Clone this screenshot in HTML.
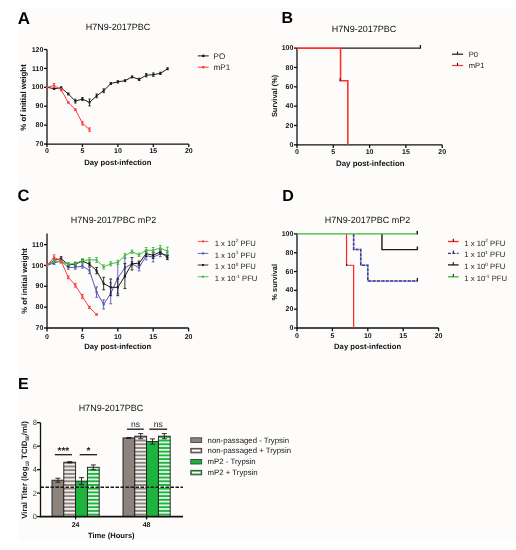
<!DOCTYPE html>
<html><head><meta charset="utf-8"><style>
html,body{margin:0;padding:0;background:#fff;}
svg{display:block;font-family:"Liberation Sans", sans-serif;filter:blur(0.3px);}
</style></head><body>
<svg width="516" height="550" viewBox="0 0 516 550" text-rendering="geometricPrecision">
<rect width="516" height="550" fill="#fff"/>
<rect x="18" y="8" width="498" height="533" fill="#fdfcfb"/>
<line x1="47.00" y1="49.50" x2="47.00" y2="144.70" stroke="#111" stroke-width="1.3" />
<line x1="46.35" y1="144.05" x2="188.80" y2="144.05" stroke="#111" stroke-width="1.3" />
<line x1="44.00" y1="144.05" x2="47.00" y2="144.05" stroke="#111" stroke-width="1.3" />
<text x="43.40" y="146.15" font-size="7" font-weight="bold" text-anchor="end" fill="#111" >70</text>
<line x1="44.00" y1="125.14" x2="47.00" y2="125.14" stroke="#111" stroke-width="1.3" />
<text x="43.40" y="127.24" font-size="7" font-weight="bold" text-anchor="end" fill="#111" >80</text>
<line x1="44.00" y1="106.23" x2="47.00" y2="106.23" stroke="#111" stroke-width="1.3" />
<text x="43.40" y="108.33" font-size="7" font-weight="bold" text-anchor="end" fill="#111" >90</text>
<line x1="44.00" y1="87.32" x2="47.00" y2="87.32" stroke="#111" stroke-width="1.3" />
<text x="43.40" y="89.42" font-size="7" font-weight="bold" text-anchor="end" fill="#111" >100</text>
<line x1="44.00" y1="68.41" x2="47.00" y2="68.41" stroke="#111" stroke-width="1.3" />
<text x="43.40" y="70.51" font-size="7" font-weight="bold" text-anchor="end" fill="#111" >110</text>
<line x1="44.00" y1="49.50" x2="47.00" y2="49.50" stroke="#111" stroke-width="1.3" />
<text x="43.40" y="51.60" font-size="7" font-weight="bold" text-anchor="end" fill="#111" >120</text>
<line x1="47.00" y1="144.05" x2="47.00" y2="147.05" stroke="#111" stroke-width="1.3" />
<text x="47.00" y="153.35" font-size="7" font-weight="bold" text-anchor="middle" fill="#111" >0</text>
<line x1="82.45" y1="144.05" x2="82.45" y2="147.05" stroke="#111" stroke-width="1.3" />
<text x="82.45" y="153.35" font-size="7" font-weight="bold" text-anchor="middle" fill="#111" >5</text>
<line x1="117.90" y1="144.05" x2="117.90" y2="147.05" stroke="#111" stroke-width="1.3" />
<text x="117.90" y="153.35" font-size="7" font-weight="bold" text-anchor="middle" fill="#111" >10</text>
<line x1="153.35" y1="144.05" x2="153.35" y2="147.05" stroke="#111" stroke-width="1.3" />
<text x="153.35" y="153.35" font-size="7" font-weight="bold" text-anchor="middle" fill="#111" >15</text>
<line x1="188.80" y1="144.05" x2="188.80" y2="147.05" stroke="#111" stroke-width="1.3" />
<text x="188.80" y="153.35" font-size="7" font-weight="bold" text-anchor="middle" fill="#111" >20</text>
<text x="17.80" y="24.30" font-size="17" font-weight="bold" text-anchor="start" fill="#000" >A</text>
<text x="118.00" y="30.30" font-size="9" font-weight="normal" text-anchor="middle" fill="#111" >H7N9-2017PBC</text>
<text x="117.80" y="165.20" font-size="7.7" font-weight="bold" text-anchor="middle" fill="#111" >Day post-infection</text>
<text x="0.00" y="0.00" font-size="7.9" font-weight="bold" text-anchor="middle" fill="#111" transform="translate(25.9 97.5) rotate(-90)">% of initial weight</text>
<polyline points="47.00,87.32 54.09,88.64 61.18,87.89 68.27,93.94 75.36,101.12 82.45,99.04 89.54,102.45 96.63,95.83 103.72,90.72 110.81,83.54 117.90,81.84 124.99,80.70 132.08,76.92 139.17,79.38 146.26,75.22 153.35,74.65 160.44,73.33 167.53,68.79" fill="none" stroke="#1a1a1a" stroke-width="1.0" stroke-linejoin="miter" />
<rect x="46.00" y="86.32" width="2.0" height="2.0" fill="#1a1a1a"/>
<line x1="54.09" y1="87.89" x2="54.09" y2="89.40" stroke="#1a1a1a" stroke-width="0.9" />
<line x1="52.89" y1="87.89" x2="55.29" y2="87.89" stroke="#1a1a1a" stroke-width="0.9" />
<line x1="52.89" y1="89.40" x2="55.29" y2="89.40" stroke="#1a1a1a" stroke-width="0.9" />
<rect x="53.09" y="87.64" width="2.0" height="2.0" fill="#1a1a1a"/>
<line x1="61.18" y1="86.75" x2="61.18" y2="89.02" stroke="#1a1a1a" stroke-width="0.9" />
<line x1="59.98" y1="86.75" x2="62.38" y2="86.75" stroke="#1a1a1a" stroke-width="0.9" />
<line x1="59.98" y1="89.02" x2="62.38" y2="89.02" stroke="#1a1a1a" stroke-width="0.9" />
<rect x="60.18" y="86.89" width="2.0" height="2.0" fill="#1a1a1a"/>
<line x1="68.27" y1="92.99" x2="68.27" y2="94.88" stroke="#1a1a1a" stroke-width="0.9" />
<line x1="67.07" y1="92.99" x2="69.47" y2="92.99" stroke="#1a1a1a" stroke-width="0.9" />
<line x1="67.07" y1="94.88" x2="69.47" y2="94.88" stroke="#1a1a1a" stroke-width="0.9" />
<rect x="67.27" y="92.94" width="2.0" height="2.0" fill="#1a1a1a"/>
<line x1="75.36" y1="99.23" x2="75.36" y2="103.02" stroke="#1a1a1a" stroke-width="0.9" />
<line x1="74.16" y1="99.23" x2="76.56" y2="99.23" stroke="#1a1a1a" stroke-width="0.9" />
<line x1="74.16" y1="103.02" x2="76.56" y2="103.02" stroke="#1a1a1a" stroke-width="0.9" />
<rect x="74.36" y="100.12" width="2.0" height="2.0" fill="#1a1a1a"/>
<line x1="82.45" y1="97.53" x2="82.45" y2="100.56" stroke="#1a1a1a" stroke-width="0.9" />
<line x1="81.25" y1="97.53" x2="83.65" y2="97.53" stroke="#1a1a1a" stroke-width="0.9" />
<line x1="81.25" y1="100.56" x2="83.65" y2="100.56" stroke="#1a1a1a" stroke-width="0.9" />
<rect x="81.45" y="98.04" width="2.0" height="2.0" fill="#1a1a1a"/>
<line x1="89.54" y1="99.04" x2="89.54" y2="105.85" stroke="#1a1a1a" stroke-width="0.9" />
<line x1="88.34" y1="99.04" x2="90.74" y2="99.04" stroke="#1a1a1a" stroke-width="0.9" />
<line x1="88.34" y1="105.85" x2="90.74" y2="105.85" stroke="#1a1a1a" stroke-width="0.9" />
<rect x="88.54" y="101.45" width="2.0" height="2.0" fill="#1a1a1a"/>
<line x1="96.63" y1="93.94" x2="96.63" y2="97.72" stroke="#1a1a1a" stroke-width="0.9" />
<line x1="95.43" y1="93.94" x2="97.83" y2="93.94" stroke="#1a1a1a" stroke-width="0.9" />
<line x1="95.43" y1="97.72" x2="97.83" y2="97.72" stroke="#1a1a1a" stroke-width="0.9" />
<rect x="95.63" y="94.83" width="2.0" height="2.0" fill="#1a1a1a"/>
<line x1="103.72" y1="88.83" x2="103.72" y2="92.61" stroke="#1a1a1a" stroke-width="0.9" />
<line x1="102.52" y1="88.83" x2="104.92" y2="88.83" stroke="#1a1a1a" stroke-width="0.9" />
<line x1="102.52" y1="92.61" x2="104.92" y2="92.61" stroke="#1a1a1a" stroke-width="0.9" />
<rect x="102.72" y="89.72" width="2.0" height="2.0" fill="#1a1a1a"/>
<line x1="110.81" y1="82.59" x2="110.81" y2="84.48" stroke="#1a1a1a" stroke-width="0.9" />
<line x1="109.61" y1="82.59" x2="112.01" y2="82.59" stroke="#1a1a1a" stroke-width="0.9" />
<line x1="109.61" y1="84.48" x2="112.01" y2="84.48" stroke="#1a1a1a" stroke-width="0.9" />
<rect x="109.81" y="82.54" width="2.0" height="2.0" fill="#1a1a1a"/>
<line x1="117.90" y1="80.70" x2="117.90" y2="82.97" stroke="#1a1a1a" stroke-width="0.9" />
<line x1="116.70" y1="80.70" x2="119.10" y2="80.70" stroke="#1a1a1a" stroke-width="0.9" />
<line x1="116.70" y1="82.97" x2="119.10" y2="82.97" stroke="#1a1a1a" stroke-width="0.9" />
<rect x="116.90" y="80.84" width="2.0" height="2.0" fill="#1a1a1a"/>
<line x1="124.99" y1="79.76" x2="124.99" y2="81.65" stroke="#1a1a1a" stroke-width="0.9" />
<line x1="123.79" y1="79.76" x2="126.19" y2="79.76" stroke="#1a1a1a" stroke-width="0.9" />
<line x1="123.79" y1="81.65" x2="126.19" y2="81.65" stroke="#1a1a1a" stroke-width="0.9" />
<rect x="123.99" y="79.70" width="2.0" height="2.0" fill="#1a1a1a"/>
<line x1="132.08" y1="75.97" x2="132.08" y2="77.87" stroke="#1a1a1a" stroke-width="0.9" />
<line x1="130.88" y1="75.97" x2="133.28" y2="75.97" stroke="#1a1a1a" stroke-width="0.9" />
<line x1="130.88" y1="77.87" x2="133.28" y2="77.87" stroke="#1a1a1a" stroke-width="0.9" />
<rect x="131.08" y="75.92" width="2.0" height="2.0" fill="#1a1a1a"/>
<line x1="139.17" y1="78.24" x2="139.17" y2="80.51" stroke="#1a1a1a" stroke-width="0.9" />
<line x1="137.97" y1="78.24" x2="140.37" y2="78.24" stroke="#1a1a1a" stroke-width="0.9" />
<line x1="137.97" y1="80.51" x2="140.37" y2="80.51" stroke="#1a1a1a" stroke-width="0.9" />
<rect x="138.17" y="78.38" width="2.0" height="2.0" fill="#1a1a1a"/>
<line x1="146.26" y1="73.52" x2="146.26" y2="76.92" stroke="#1a1a1a" stroke-width="0.9" />
<line x1="145.06" y1="73.52" x2="147.46" y2="73.52" stroke="#1a1a1a" stroke-width="0.9" />
<line x1="145.06" y1="76.92" x2="147.46" y2="76.92" stroke="#1a1a1a" stroke-width="0.9" />
<rect x="145.26" y="74.22" width="2.0" height="2.0" fill="#1a1a1a"/>
<line x1="153.35" y1="72.95" x2="153.35" y2="76.35" stroke="#1a1a1a" stroke-width="0.9" />
<line x1="152.15" y1="72.95" x2="154.55" y2="72.95" stroke="#1a1a1a" stroke-width="0.9" />
<line x1="152.15" y1="76.35" x2="154.55" y2="76.35" stroke="#1a1a1a" stroke-width="0.9" />
<rect x="152.35" y="73.65" width="2.0" height="2.0" fill="#1a1a1a"/>
<line x1="160.44" y1="72.19" x2="160.44" y2="74.46" stroke="#1a1a1a" stroke-width="0.9" />
<line x1="159.24" y1="72.19" x2="161.64" y2="72.19" stroke="#1a1a1a" stroke-width="0.9" />
<line x1="159.24" y1="74.46" x2="161.64" y2="74.46" stroke="#1a1a1a" stroke-width="0.9" />
<rect x="159.44" y="72.33" width="2.0" height="2.0" fill="#1a1a1a"/>
<line x1="167.53" y1="67.84" x2="167.53" y2="69.73" stroke="#1a1a1a" stroke-width="0.9" />
<line x1="166.33" y1="67.84" x2="168.73" y2="67.84" stroke="#1a1a1a" stroke-width="0.9" />
<line x1="166.33" y1="69.73" x2="168.73" y2="69.73" stroke="#1a1a1a" stroke-width="0.9" />
<rect x="166.53" y="67.79" width="2.0" height="2.0" fill="#1a1a1a"/>
<polyline points="47.00,87.32 54.09,85.43 61.18,89.78 68.27,102.45 75.36,109.63 82.45,123.25 89.54,129.68" fill="none" stroke="#ff3b3b" stroke-width="1.0" stroke-linejoin="miter" />
<rect x="46.00" y="86.32" width="2.0" height="2.0" fill="#ff3b3b"/>
<line x1="54.09" y1="83.54" x2="54.09" y2="87.32" stroke="#ff3b3b" stroke-width="0.9" />
<line x1="52.89" y1="83.54" x2="55.29" y2="83.54" stroke="#ff3b3b" stroke-width="0.9" />
<line x1="52.89" y1="87.32" x2="55.29" y2="87.32" stroke="#ff3b3b" stroke-width="0.9" />
<rect x="53.09" y="84.43" width="2.0" height="2.0" fill="#ff3b3b"/>
<line x1="61.18" y1="88.64" x2="61.18" y2="90.91" stroke="#ff3b3b" stroke-width="0.9" />
<line x1="59.98" y1="88.64" x2="62.38" y2="88.64" stroke="#ff3b3b" stroke-width="0.9" />
<line x1="59.98" y1="90.91" x2="62.38" y2="90.91" stroke="#ff3b3b" stroke-width="0.9" />
<rect x="60.18" y="88.78" width="2.0" height="2.0" fill="#ff3b3b"/>
<line x1="68.27" y1="101.88" x2="68.27" y2="103.02" stroke="#ff3b3b" stroke-width="0.9" />
<line x1="67.07" y1="101.88" x2="69.47" y2="101.88" stroke="#ff3b3b" stroke-width="0.9" />
<line x1="67.07" y1="103.02" x2="69.47" y2="103.02" stroke="#ff3b3b" stroke-width="0.9" />
<rect x="67.27" y="101.45" width="2.0" height="2.0" fill="#ff3b3b"/>
<line x1="75.36" y1="108.69" x2="75.36" y2="110.58" stroke="#ff3b3b" stroke-width="0.9" />
<line x1="74.16" y1="108.69" x2="76.56" y2="108.69" stroke="#ff3b3b" stroke-width="0.9" />
<line x1="74.16" y1="110.58" x2="76.56" y2="110.58" stroke="#ff3b3b" stroke-width="0.9" />
<rect x="74.36" y="108.63" width="2.0" height="2.0" fill="#ff3b3b"/>
<line x1="82.45" y1="121.36" x2="82.45" y2="125.14" stroke="#ff3b3b" stroke-width="0.9" />
<line x1="81.25" y1="121.36" x2="83.65" y2="121.36" stroke="#ff3b3b" stroke-width="0.9" />
<line x1="81.25" y1="125.14" x2="83.65" y2="125.14" stroke="#ff3b3b" stroke-width="0.9" />
<rect x="81.45" y="122.25" width="2.0" height="2.0" fill="#ff3b3b"/>
<line x1="89.54" y1="127.79" x2="89.54" y2="131.57" stroke="#ff3b3b" stroke-width="0.9" />
<line x1="88.34" y1="127.79" x2="90.74" y2="127.79" stroke="#ff3b3b" stroke-width="0.9" />
<line x1="88.34" y1="131.57" x2="90.74" y2="131.57" stroke="#ff3b3b" stroke-width="0.9" />
<rect x="88.54" y="128.68" width="2.0" height="2.0" fill="#ff3b3b"/>
<line x1="197.80" y1="55.90" x2="208.70" y2="55.90" stroke="#1a1a1a" stroke-width="1.0" />
<rect x="202.1" y="54.7" width="2.4" height="2.4" fill="#1a1a1a"/>
<text x="213.60" y="58.90" font-size="8.1" font-weight="normal" text-anchor="start" fill="#222" >PO</text>
<line x1="197.80" y1="67.20" x2="208.70" y2="67.20" stroke="#ff3b3b" stroke-width="1.0" />
<rect x="202.1" y="66.0" width="2.4" height="2.4" fill="#ff3b3b"/>
<text x="213.60" y="70.20" font-size="8.1" font-weight="normal" text-anchor="start" fill="#222" >mP1</text>
<line x1="297.00" y1="48.10" x2="297.00" y2="145.45" stroke="#111" stroke-width="1.3" />
<line x1="296.35" y1="144.80" x2="442.20" y2="144.80" stroke="#111" stroke-width="1.3" />
<line x1="294.00" y1="144.80" x2="297.00" y2="144.80" stroke="#111" stroke-width="1.3" />
<text x="293.40" y="146.90" font-size="7" font-weight="bold" text-anchor="end" fill="#111" >0</text>
<line x1="294.00" y1="125.46" x2="297.00" y2="125.46" stroke="#111" stroke-width="1.3" />
<text x="293.40" y="127.56" font-size="7" font-weight="bold" text-anchor="end" fill="#111" >20</text>
<line x1="294.00" y1="106.12" x2="297.00" y2="106.12" stroke="#111" stroke-width="1.3" />
<text x="293.40" y="108.22" font-size="7" font-weight="bold" text-anchor="end" fill="#111" >40</text>
<line x1="294.00" y1="86.78" x2="297.00" y2="86.78" stroke="#111" stroke-width="1.3" />
<text x="293.40" y="88.88" font-size="7" font-weight="bold" text-anchor="end" fill="#111" >60</text>
<line x1="294.00" y1="67.44" x2="297.00" y2="67.44" stroke="#111" stroke-width="1.3" />
<text x="293.40" y="69.54" font-size="7" font-weight="bold" text-anchor="end" fill="#111" >80</text>
<line x1="294.00" y1="48.10" x2="297.00" y2="48.10" stroke="#111" stroke-width="1.3" />
<text x="293.40" y="50.20" font-size="7" font-weight="bold" text-anchor="end" fill="#111" >100</text>
<line x1="297.00" y1="144.80" x2="297.00" y2="148.10" stroke="#111" stroke-width="1.3" />
<text x="297.00" y="154.40" font-size="7" font-weight="bold" text-anchor="middle" fill="#111" >0</text>
<line x1="333.30" y1="144.80" x2="333.30" y2="148.10" stroke="#111" stroke-width="1.3" />
<text x="333.30" y="154.40" font-size="7" font-weight="bold" text-anchor="middle" fill="#111" >5</text>
<line x1="369.60" y1="144.80" x2="369.60" y2="148.10" stroke="#111" stroke-width="1.3" />
<text x="369.60" y="154.40" font-size="7" font-weight="bold" text-anchor="middle" fill="#111" >10</text>
<line x1="405.90" y1="144.80" x2="405.90" y2="148.10" stroke="#111" stroke-width="1.3" />
<text x="405.90" y="154.40" font-size="7" font-weight="bold" text-anchor="middle" fill="#111" >15</text>
<line x1="442.20" y1="144.80" x2="442.20" y2="148.10" stroke="#111" stroke-width="1.3" />
<text x="442.20" y="154.40" font-size="7" font-weight="bold" text-anchor="middle" fill="#111" >20</text>
<text x="281.40" y="23.40" font-size="16" font-weight="bold" text-anchor="start" fill="#000" >B</text>
<text x="364.00" y="31.80" font-size="9" font-weight="normal" text-anchor="middle" fill="#111" >H7N9-2017PBC</text>
<text x="370.30" y="166.10" font-size="7.85" font-weight="bold" text-anchor="middle" fill="#111" >Day post-infection</text>
<text x="0.00" y="0.00" font-size="7.4" font-weight="bold" text-anchor="middle" fill="#111" transform="translate(277.3 95.9) rotate(-90)">Survival (%)</text>
<polyline points="340.56,48.10 420.42,48.10 420.42,45.10" fill="none" stroke="#1a1a1a" stroke-width="1.3" stroke-linejoin="miter" />
<polyline points="297.00,48.10 340.56,48.10 340.56,80.78 347.82,80.78 347.82,144.80" fill="none" stroke="#ff3030" stroke-width="1.6" stroke-linejoin="miter" />
<line x1="340.06" y1="78.28" x2="340.06" y2="81.28" stroke="#1a1a1a" stroke-width="1.0" />
<line x1="452.00" y1="54.20" x2="463.00" y2="54.20" stroke="#1a1a1a" stroke-width="1.2" />
<line x1="457.50" y1="54.20" x2="457.50" y2="51.50" stroke="#1a1a1a" stroke-width="1.1" />
<text x="468.80" y="57.10" font-size="7.6" font-weight="normal" text-anchor="start" fill="#222" >P0</text>
<line x1="452.00" y1="65.50" x2="463.00" y2="65.50" stroke="#ff3030" stroke-width="1.2" />
<line x1="457.50" y1="65.50" x2="457.50" y2="62.80" stroke="#1a1a1a" stroke-width="1.1" />
<text x="468.80" y="68.40" font-size="7.6" font-weight="normal" text-anchor="start" fill="#222" >mP1</text>
<line x1="47.00" y1="233.50" x2="47.00" y2="328.65" stroke="#111" stroke-width="1.3" />
<line x1="46.35" y1="328.00" x2="188.60" y2="328.00" stroke="#111" stroke-width="1.3" />
<line x1="44.00" y1="328.00" x2="47.00" y2="328.00" stroke="#111" stroke-width="1.3" />
<text x="43.40" y="330.10" font-size="7" font-weight="bold" text-anchor="end" fill="#111" >70</text>
<line x1="44.00" y1="307.15" x2="47.00" y2="307.15" stroke="#111" stroke-width="1.3" />
<text x="43.40" y="309.25" font-size="7" font-weight="bold" text-anchor="end" fill="#111" >80</text>
<line x1="44.00" y1="286.30" x2="47.00" y2="286.30" stroke="#111" stroke-width="1.3" />
<text x="43.40" y="288.40" font-size="7" font-weight="bold" text-anchor="end" fill="#111" >90</text>
<line x1="44.00" y1="265.45" x2="47.00" y2="265.45" stroke="#111" stroke-width="1.3" />
<text x="43.40" y="267.55" font-size="7" font-weight="bold" text-anchor="end" fill="#111" >100</text>
<line x1="44.00" y1="244.60" x2="47.00" y2="244.60" stroke="#111" stroke-width="1.3" />
<text x="43.40" y="246.70" font-size="7" font-weight="bold" text-anchor="end" fill="#111" >110</text>
<line x1="47.00" y1="328.00" x2="47.00" y2="331.50" stroke="#111" stroke-width="1.3" />
<text x="47.00" y="338.60" font-size="7" font-weight="bold" text-anchor="middle" fill="#111" >0</text>
<line x1="82.40" y1="328.00" x2="82.40" y2="331.50" stroke="#111" stroke-width="1.3" />
<text x="82.40" y="338.60" font-size="7" font-weight="bold" text-anchor="middle" fill="#111" >5</text>
<line x1="117.80" y1="328.00" x2="117.80" y2="331.50" stroke="#111" stroke-width="1.3" />
<text x="117.80" y="338.60" font-size="7" font-weight="bold" text-anchor="middle" fill="#111" >10</text>
<line x1="153.20" y1="328.00" x2="153.20" y2="331.50" stroke="#111" stroke-width="1.3" />
<text x="153.20" y="338.60" font-size="7" font-weight="bold" text-anchor="middle" fill="#111" >15</text>
<line x1="188.60" y1="328.00" x2="188.60" y2="331.50" stroke="#111" stroke-width="1.3" />
<text x="188.60" y="338.60" font-size="7" font-weight="bold" text-anchor="middle" fill="#111" >20</text>
<text x="17.60" y="200.90" font-size="16.5" font-weight="bold" text-anchor="start" fill="#000" >C</text>
<text x="113.60" y="222.60" font-size="9" font-weight="normal" text-anchor="middle" fill="#111" >H7N9-2017PBC mP2</text>
<text x="117.70" y="348.80" font-size="7.7" font-weight="bold" text-anchor="middle" fill="#111" >Day post-infection</text>
<text x="0.00" y="0.00" font-size="7.75" font-weight="bold" text-anchor="middle" fill="#111" transform="translate(26.5 281) rotate(-90)">% of initial weight</text>
<polyline points="47.00,265.45 54.08,262.95 61.16,261.07 68.24,267.33 75.32,267.33 82.40,266.08 89.48,270.45 96.56,292.14 103.64,304.44 110.72,293.39 117.80,278.17 124.88,267.74 131.96,263.78 139.04,267.74 146.12,255.65 153.20,257.11 160.28,253.98 167.36,254.82" fill="none" stroke="#5656b4" stroke-width="1.0" stroke-linejoin="miter" />
<rect x="45.95" y="264.40" width="2.1" height="2.1" fill="#5656b4"/>
<line x1="54.08" y1="261.28" x2="54.08" y2="264.62" stroke="#5656b4" stroke-width="0.9" />
<line x1="52.68" y1="261.28" x2="55.48" y2="261.28" stroke="#5656b4" stroke-width="0.9" />
<line x1="52.68" y1="264.62" x2="55.48" y2="264.62" stroke="#5656b4" stroke-width="0.9" />
<rect x="53.03" y="261.90" width="2.1" height="2.1" fill="#5656b4"/>
<line x1="61.16" y1="259.40" x2="61.16" y2="262.74" stroke="#5656b4" stroke-width="0.9" />
<line x1="59.76" y1="259.40" x2="62.56" y2="259.40" stroke="#5656b4" stroke-width="0.9" />
<line x1="59.76" y1="262.74" x2="62.56" y2="262.74" stroke="#5656b4" stroke-width="0.9" />
<rect x="60.11" y="260.02" width="2.1" height="2.1" fill="#5656b4"/>
<line x1="68.24" y1="265.45" x2="68.24" y2="269.20" stroke="#5656b4" stroke-width="0.9" />
<line x1="66.84" y1="265.45" x2="69.64" y2="265.45" stroke="#5656b4" stroke-width="0.9" />
<line x1="66.84" y1="269.20" x2="69.64" y2="269.20" stroke="#5656b4" stroke-width="0.9" />
<rect x="67.19" y="266.28" width="2.1" height="2.1" fill="#5656b4"/>
<line x1="75.32" y1="265.45" x2="75.32" y2="269.20" stroke="#5656b4" stroke-width="0.9" />
<line x1="73.92" y1="265.45" x2="76.72" y2="265.45" stroke="#5656b4" stroke-width="0.9" />
<line x1="73.92" y1="269.20" x2="76.72" y2="269.20" stroke="#5656b4" stroke-width="0.9" />
<rect x="74.27" y="266.28" width="2.1" height="2.1" fill="#5656b4"/>
<line x1="82.40" y1="263.99" x2="82.40" y2="268.16" stroke="#5656b4" stroke-width="0.9" />
<line x1="81.00" y1="263.99" x2="83.80" y2="263.99" stroke="#5656b4" stroke-width="0.9" />
<line x1="81.00" y1="268.16" x2="83.80" y2="268.16" stroke="#5656b4" stroke-width="0.9" />
<rect x="81.35" y="265.03" width="2.1" height="2.1" fill="#5656b4"/>
<line x1="89.48" y1="267.33" x2="89.48" y2="273.58" stroke="#5656b4" stroke-width="0.9" />
<line x1="88.08" y1="267.33" x2="90.88" y2="267.33" stroke="#5656b4" stroke-width="0.9" />
<line x1="88.08" y1="273.58" x2="90.88" y2="273.58" stroke="#5656b4" stroke-width="0.9" />
<rect x="88.43" y="269.40" width="2.1" height="2.1" fill="#5656b4"/>
<line x1="96.56" y1="286.93" x2="96.56" y2="297.35" stroke="#5656b4" stroke-width="0.9" />
<line x1="95.16" y1="286.93" x2="97.96" y2="286.93" stroke="#5656b4" stroke-width="0.9" />
<line x1="95.16" y1="297.35" x2="97.96" y2="297.35" stroke="#5656b4" stroke-width="0.9" />
<rect x="95.51" y="291.09" width="2.1" height="2.1" fill="#5656b4"/>
<line x1="103.64" y1="299.85" x2="103.64" y2="309.03" stroke="#5656b4" stroke-width="0.9" />
<line x1="102.24" y1="299.85" x2="105.04" y2="299.85" stroke="#5656b4" stroke-width="0.9" />
<line x1="102.24" y1="309.03" x2="105.04" y2="309.03" stroke="#5656b4" stroke-width="0.9" />
<rect x="102.59" y="303.39" width="2.1" height="2.1" fill="#5656b4"/>
<line x1="110.72" y1="282.96" x2="110.72" y2="303.81" stroke="#5656b4" stroke-width="0.9" />
<line x1="109.32" y1="282.96" x2="112.12" y2="282.96" stroke="#5656b4" stroke-width="0.9" />
<line x1="109.32" y1="303.81" x2="112.12" y2="303.81" stroke="#5656b4" stroke-width="0.9" />
<rect x="109.67" y="292.34" width="2.1" height="2.1" fill="#5656b4"/>
<line x1="117.80" y1="262.53" x2="117.80" y2="293.81" stroke="#5656b4" stroke-width="0.9" />
<line x1="116.40" y1="262.53" x2="119.20" y2="262.53" stroke="#5656b4" stroke-width="0.9" />
<line x1="116.40" y1="293.81" x2="119.20" y2="293.81" stroke="#5656b4" stroke-width="0.9" />
<rect x="116.75" y="277.12" width="2.1" height="2.1" fill="#5656b4"/>
<line x1="124.88" y1="258.36" x2="124.88" y2="277.13" stroke="#5656b4" stroke-width="0.9" />
<line x1="123.48" y1="258.36" x2="126.28" y2="258.36" stroke="#5656b4" stroke-width="0.9" />
<line x1="123.48" y1="277.13" x2="126.28" y2="277.13" stroke="#5656b4" stroke-width="0.9" />
<rect x="123.83" y="266.69" width="2.1" height="2.1" fill="#5656b4"/>
<line x1="131.96" y1="261.70" x2="131.96" y2="265.87" stroke="#5656b4" stroke-width="0.9" />
<line x1="130.56" y1="261.70" x2="133.36" y2="261.70" stroke="#5656b4" stroke-width="0.9" />
<line x1="130.56" y1="265.87" x2="133.36" y2="265.87" stroke="#5656b4" stroke-width="0.9" />
<rect x="130.91" y="262.73" width="2.1" height="2.1" fill="#5656b4"/>
<line x1="139.04" y1="264.62" x2="139.04" y2="270.87" stroke="#5656b4" stroke-width="0.9" />
<line x1="137.64" y1="264.62" x2="140.44" y2="264.62" stroke="#5656b4" stroke-width="0.9" />
<line x1="137.64" y1="270.87" x2="140.44" y2="270.87" stroke="#5656b4" stroke-width="0.9" />
<rect x="137.99" y="266.69" width="2.1" height="2.1" fill="#5656b4"/>
<line x1="146.12" y1="251.48" x2="146.12" y2="259.82" stroke="#5656b4" stroke-width="0.9" />
<line x1="144.72" y1="251.48" x2="147.52" y2="251.48" stroke="#5656b4" stroke-width="0.9" />
<line x1="144.72" y1="259.82" x2="147.52" y2="259.82" stroke="#5656b4" stroke-width="0.9" />
<rect x="145.07" y="254.60" width="2.1" height="2.1" fill="#5656b4"/>
<line x1="153.20" y1="252.31" x2="153.20" y2="261.91" stroke="#5656b4" stroke-width="0.9" />
<line x1="151.80" y1="252.31" x2="154.60" y2="252.31" stroke="#5656b4" stroke-width="0.9" />
<line x1="151.80" y1="261.91" x2="154.60" y2="261.91" stroke="#5656b4" stroke-width="0.9" />
<rect x="152.15" y="256.06" width="2.1" height="2.1" fill="#5656b4"/>
<line x1="160.28" y1="251.27" x2="160.28" y2="256.69" stroke="#5656b4" stroke-width="0.9" />
<line x1="158.88" y1="251.27" x2="161.68" y2="251.27" stroke="#5656b4" stroke-width="0.9" />
<line x1="158.88" y1="256.69" x2="161.68" y2="256.69" stroke="#5656b4" stroke-width="0.9" />
<rect x="159.23" y="252.93" width="2.1" height="2.1" fill="#5656b4"/>
<line x1="167.36" y1="252.31" x2="167.36" y2="257.32" stroke="#5656b4" stroke-width="0.9" />
<line x1="165.96" y1="252.31" x2="168.76" y2="252.31" stroke="#5656b4" stroke-width="0.9" />
<line x1="165.96" y1="257.32" x2="168.76" y2="257.32" stroke="#5656b4" stroke-width="0.9" />
<rect x="166.31" y="253.77" width="2.1" height="2.1" fill="#5656b4"/>
<polyline points="47.00,265.45 54.08,260.45 61.16,258.57 68.24,264.82 75.32,264.20 82.40,261.07 89.48,264.20 96.56,270.66 103.64,283.59 110.72,287.34 117.80,287.34 124.88,276.08 131.96,263.78 139.04,263.16 146.12,253.57 153.20,255.23 160.28,251.90 167.36,257.53" fill="none" stroke="#1a1a1a" stroke-width="1.0" stroke-linejoin="miter" />
<rect x="45.95" y="264.40" width="2.1" height="2.1" fill="#1a1a1a"/>
<line x1="54.08" y1="258.78" x2="54.08" y2="262.11" stroke="#1a1a1a" stroke-width="0.9" />
<line x1="52.68" y1="258.78" x2="55.48" y2="258.78" stroke="#1a1a1a" stroke-width="0.9" />
<line x1="52.68" y1="262.11" x2="55.48" y2="262.11" stroke="#1a1a1a" stroke-width="0.9" />
<rect x="53.03" y="259.40" width="2.1" height="2.1" fill="#1a1a1a"/>
<line x1="61.16" y1="256.69" x2="61.16" y2="260.45" stroke="#1a1a1a" stroke-width="0.9" />
<line x1="59.76" y1="256.69" x2="62.56" y2="256.69" stroke="#1a1a1a" stroke-width="0.9" />
<line x1="59.76" y1="260.45" x2="62.56" y2="260.45" stroke="#1a1a1a" stroke-width="0.9" />
<rect x="60.11" y="257.52" width="2.1" height="2.1" fill="#1a1a1a"/>
<line x1="68.24" y1="263.16" x2="68.24" y2="266.49" stroke="#1a1a1a" stroke-width="0.9" />
<line x1="66.84" y1="263.16" x2="69.64" y2="263.16" stroke="#1a1a1a" stroke-width="0.9" />
<line x1="66.84" y1="266.49" x2="69.64" y2="266.49" stroke="#1a1a1a" stroke-width="0.9" />
<rect x="67.19" y="263.77" width="2.1" height="2.1" fill="#1a1a1a"/>
<line x1="75.32" y1="262.53" x2="75.32" y2="265.87" stroke="#1a1a1a" stroke-width="0.9" />
<line x1="73.92" y1="262.53" x2="76.72" y2="262.53" stroke="#1a1a1a" stroke-width="0.9" />
<line x1="73.92" y1="265.87" x2="76.72" y2="265.87" stroke="#1a1a1a" stroke-width="0.9" />
<rect x="74.27" y="263.15" width="2.1" height="2.1" fill="#1a1a1a"/>
<line x1="82.40" y1="259.40" x2="82.40" y2="262.74" stroke="#1a1a1a" stroke-width="0.9" />
<line x1="81.00" y1="259.40" x2="83.80" y2="259.40" stroke="#1a1a1a" stroke-width="0.9" />
<line x1="81.00" y1="262.74" x2="83.80" y2="262.74" stroke="#1a1a1a" stroke-width="0.9" />
<rect x="81.35" y="260.02" width="2.1" height="2.1" fill="#1a1a1a"/>
<line x1="89.48" y1="262.32" x2="89.48" y2="266.08" stroke="#1a1a1a" stroke-width="0.9" />
<line x1="88.08" y1="262.32" x2="90.88" y2="262.32" stroke="#1a1a1a" stroke-width="0.9" />
<line x1="88.08" y1="266.08" x2="90.88" y2="266.08" stroke="#1a1a1a" stroke-width="0.9" />
<rect x="88.43" y="263.15" width="2.1" height="2.1" fill="#1a1a1a"/>
<line x1="96.56" y1="267.54" x2="96.56" y2="273.79" stroke="#1a1a1a" stroke-width="0.9" />
<line x1="95.16" y1="267.54" x2="97.96" y2="267.54" stroke="#1a1a1a" stroke-width="0.9" />
<line x1="95.16" y1="273.79" x2="97.96" y2="273.79" stroke="#1a1a1a" stroke-width="0.9" />
<rect x="95.51" y="269.61" width="2.1" height="2.1" fill="#1a1a1a"/>
<line x1="103.64" y1="277.33" x2="103.64" y2="289.84" stroke="#1a1a1a" stroke-width="0.9" />
<line x1="102.24" y1="277.33" x2="105.04" y2="277.33" stroke="#1a1a1a" stroke-width="0.9" />
<line x1="102.24" y1="289.84" x2="105.04" y2="289.84" stroke="#1a1a1a" stroke-width="0.9" />
<rect x="102.59" y="282.54" width="2.1" height="2.1" fill="#1a1a1a"/>
<line x1="110.72" y1="279.00" x2="110.72" y2="295.68" stroke="#1a1a1a" stroke-width="0.9" />
<line x1="109.32" y1="279.00" x2="112.12" y2="279.00" stroke="#1a1a1a" stroke-width="0.9" />
<line x1="109.32" y1="295.68" x2="112.12" y2="295.68" stroke="#1a1a1a" stroke-width="0.9" />
<rect x="109.67" y="286.29" width="2.1" height="2.1" fill="#1a1a1a"/>
<line x1="117.80" y1="279.00" x2="117.80" y2="295.68" stroke="#1a1a1a" stroke-width="0.9" />
<line x1="116.40" y1="279.00" x2="119.20" y2="279.00" stroke="#1a1a1a" stroke-width="0.9" />
<line x1="116.40" y1="295.68" x2="119.20" y2="295.68" stroke="#1a1a1a" stroke-width="0.9" />
<rect x="116.75" y="286.29" width="2.1" height="2.1" fill="#1a1a1a"/>
<line x1="124.88" y1="263.57" x2="124.88" y2="288.59" stroke="#1a1a1a" stroke-width="0.9" />
<line x1="123.48" y1="263.57" x2="126.28" y2="263.57" stroke="#1a1a1a" stroke-width="0.9" />
<line x1="123.48" y1="288.59" x2="126.28" y2="288.59" stroke="#1a1a1a" stroke-width="0.9" />
<rect x="123.83" y="275.03" width="2.1" height="2.1" fill="#1a1a1a"/>
<line x1="131.96" y1="257.53" x2="131.96" y2="270.04" stroke="#1a1a1a" stroke-width="0.9" />
<line x1="130.56" y1="257.53" x2="133.36" y2="257.53" stroke="#1a1a1a" stroke-width="0.9" />
<line x1="130.56" y1="270.04" x2="133.36" y2="270.04" stroke="#1a1a1a" stroke-width="0.9" />
<rect x="130.91" y="262.73" width="2.1" height="2.1" fill="#1a1a1a"/>
<line x1="139.04" y1="261.07" x2="139.04" y2="265.24" stroke="#1a1a1a" stroke-width="0.9" />
<line x1="137.64" y1="261.07" x2="140.44" y2="261.07" stroke="#1a1a1a" stroke-width="0.9" />
<line x1="137.64" y1="265.24" x2="140.44" y2="265.24" stroke="#1a1a1a" stroke-width="0.9" />
<rect x="137.99" y="262.11" width="2.1" height="2.1" fill="#1a1a1a"/>
<line x1="146.12" y1="250.44" x2="146.12" y2="256.69" stroke="#1a1a1a" stroke-width="0.9" />
<line x1="144.72" y1="250.44" x2="147.52" y2="250.44" stroke="#1a1a1a" stroke-width="0.9" />
<line x1="144.72" y1="256.69" x2="147.52" y2="256.69" stroke="#1a1a1a" stroke-width="0.9" />
<rect x="145.07" y="252.52" width="2.1" height="2.1" fill="#1a1a1a"/>
<line x1="153.20" y1="252.11" x2="153.20" y2="258.36" stroke="#1a1a1a" stroke-width="0.9" />
<line x1="151.80" y1="252.11" x2="154.60" y2="252.11" stroke="#1a1a1a" stroke-width="0.9" />
<line x1="151.80" y1="258.36" x2="154.60" y2="258.36" stroke="#1a1a1a" stroke-width="0.9" />
<rect x="152.15" y="254.18" width="2.1" height="2.1" fill="#1a1a1a"/>
<line x1="160.28" y1="249.81" x2="160.28" y2="253.98" stroke="#1a1a1a" stroke-width="0.9" />
<line x1="158.88" y1="249.81" x2="161.68" y2="249.81" stroke="#1a1a1a" stroke-width="0.9" />
<line x1="158.88" y1="253.98" x2="161.68" y2="253.98" stroke="#1a1a1a" stroke-width="0.9" />
<rect x="159.23" y="250.85" width="2.1" height="2.1" fill="#1a1a1a"/>
<line x1="167.36" y1="255.44" x2="167.36" y2="259.61" stroke="#1a1a1a" stroke-width="0.9" />
<line x1="165.96" y1="255.44" x2="168.76" y2="255.44" stroke="#1a1a1a" stroke-width="0.9" />
<line x1="165.96" y1="259.61" x2="168.76" y2="259.61" stroke="#1a1a1a" stroke-width="0.9" />
<rect x="166.31" y="256.48" width="2.1" height="2.1" fill="#1a1a1a"/>
<polyline points="47.00,265.45 54.08,261.07 61.16,261.70 68.24,264.20 75.32,263.57 82.40,260.45 89.48,259.82 96.56,260.03 103.64,266.91 110.72,263.78 117.80,262.32 124.88,255.65 131.96,251.69 139.04,254.82 146.12,250.23 153.20,250.23 160.28,248.14 167.36,250.86" fill="none" stroke="#45b845" stroke-width="1.0" stroke-linejoin="miter" />
<rect x="45.95" y="264.40" width="2.1" height="2.1" fill="#45b845"/>
<line x1="54.08" y1="259.61" x2="54.08" y2="262.53" stroke="#45b845" stroke-width="0.9" />
<line x1="52.68" y1="259.61" x2="55.48" y2="259.61" stroke="#45b845" stroke-width="0.9" />
<line x1="52.68" y1="262.53" x2="55.48" y2="262.53" stroke="#45b845" stroke-width="0.9" />
<rect x="53.03" y="260.02" width="2.1" height="2.1" fill="#45b845"/>
<line x1="61.16" y1="260.24" x2="61.16" y2="263.16" stroke="#45b845" stroke-width="0.9" />
<line x1="59.76" y1="260.24" x2="62.56" y2="260.24" stroke="#45b845" stroke-width="0.9" />
<line x1="59.76" y1="263.16" x2="62.56" y2="263.16" stroke="#45b845" stroke-width="0.9" />
<rect x="60.11" y="260.65" width="2.1" height="2.1" fill="#45b845"/>
<line x1="68.24" y1="262.74" x2="68.24" y2="265.66" stroke="#45b845" stroke-width="0.9" />
<line x1="66.84" y1="262.74" x2="69.64" y2="262.74" stroke="#45b845" stroke-width="0.9" />
<line x1="66.84" y1="265.66" x2="69.64" y2="265.66" stroke="#45b845" stroke-width="0.9" />
<rect x="67.19" y="263.15" width="2.1" height="2.1" fill="#45b845"/>
<line x1="75.32" y1="261.91" x2="75.32" y2="265.24" stroke="#45b845" stroke-width="0.9" />
<line x1="73.92" y1="261.91" x2="76.72" y2="261.91" stroke="#45b845" stroke-width="0.9" />
<line x1="73.92" y1="265.24" x2="76.72" y2="265.24" stroke="#45b845" stroke-width="0.9" />
<rect x="74.27" y="262.52" width="2.1" height="2.1" fill="#45b845"/>
<line x1="82.40" y1="258.57" x2="82.40" y2="262.32" stroke="#45b845" stroke-width="0.9" />
<line x1="81.00" y1="258.57" x2="83.80" y2="258.57" stroke="#45b845" stroke-width="0.9" />
<line x1="81.00" y1="262.32" x2="83.80" y2="262.32" stroke="#45b845" stroke-width="0.9" />
<rect x="81.35" y="259.40" width="2.1" height="2.1" fill="#45b845"/>
<line x1="89.48" y1="257.74" x2="89.48" y2="261.91" stroke="#45b845" stroke-width="0.9" />
<line x1="88.08" y1="257.74" x2="90.88" y2="257.74" stroke="#45b845" stroke-width="0.9" />
<line x1="88.08" y1="261.91" x2="90.88" y2="261.91" stroke="#45b845" stroke-width="0.9" />
<rect x="88.43" y="258.77" width="2.1" height="2.1" fill="#45b845"/>
<line x1="96.56" y1="257.53" x2="96.56" y2="262.53" stroke="#45b845" stroke-width="0.9" />
<line x1="95.16" y1="257.53" x2="97.96" y2="257.53" stroke="#45b845" stroke-width="0.9" />
<line x1="95.16" y1="262.53" x2="97.96" y2="262.53" stroke="#45b845" stroke-width="0.9" />
<rect x="95.51" y="258.98" width="2.1" height="2.1" fill="#45b845"/>
<line x1="103.64" y1="264.82" x2="103.64" y2="268.99" stroke="#45b845" stroke-width="0.9" />
<line x1="102.24" y1="264.82" x2="105.04" y2="264.82" stroke="#45b845" stroke-width="0.9" />
<line x1="102.24" y1="268.99" x2="105.04" y2="268.99" stroke="#45b845" stroke-width="0.9" />
<rect x="102.59" y="265.86" width="2.1" height="2.1" fill="#45b845"/>
<line x1="110.72" y1="261.70" x2="110.72" y2="265.87" stroke="#45b845" stroke-width="0.9" />
<line x1="109.32" y1="261.70" x2="112.12" y2="261.70" stroke="#45b845" stroke-width="0.9" />
<line x1="109.32" y1="265.87" x2="112.12" y2="265.87" stroke="#45b845" stroke-width="0.9" />
<rect x="109.67" y="262.73" width="2.1" height="2.1" fill="#45b845"/>
<line x1="117.80" y1="260.24" x2="117.80" y2="264.41" stroke="#45b845" stroke-width="0.9" />
<line x1="116.40" y1="260.24" x2="119.20" y2="260.24" stroke="#45b845" stroke-width="0.9" />
<line x1="116.40" y1="264.41" x2="119.20" y2="264.41" stroke="#45b845" stroke-width="0.9" />
<rect x="116.75" y="261.27" width="2.1" height="2.1" fill="#45b845"/>
<line x1="124.88" y1="253.57" x2="124.88" y2="257.74" stroke="#45b845" stroke-width="0.9" />
<line x1="123.48" y1="253.57" x2="126.28" y2="253.57" stroke="#45b845" stroke-width="0.9" />
<line x1="123.48" y1="257.74" x2="126.28" y2="257.74" stroke="#45b845" stroke-width="0.9" />
<rect x="123.83" y="254.60" width="2.1" height="2.1" fill="#45b845"/>
<line x1="131.96" y1="250.02" x2="131.96" y2="253.36" stroke="#45b845" stroke-width="0.9" />
<line x1="130.56" y1="250.02" x2="133.36" y2="250.02" stroke="#45b845" stroke-width="0.9" />
<line x1="130.56" y1="253.36" x2="133.36" y2="253.36" stroke="#45b845" stroke-width="0.9" />
<rect x="130.91" y="250.64" width="2.1" height="2.1" fill="#45b845"/>
<line x1="139.04" y1="253.15" x2="139.04" y2="256.48" stroke="#45b845" stroke-width="0.9" />
<line x1="137.64" y1="253.15" x2="140.44" y2="253.15" stroke="#45b845" stroke-width="0.9" />
<line x1="137.64" y1="256.48" x2="140.44" y2="256.48" stroke="#45b845" stroke-width="0.9" />
<rect x="137.99" y="253.77" width="2.1" height="2.1" fill="#45b845"/>
<line x1="146.12" y1="247.52" x2="146.12" y2="252.94" stroke="#45b845" stroke-width="0.9" />
<line x1="144.72" y1="247.52" x2="147.52" y2="247.52" stroke="#45b845" stroke-width="0.9" />
<line x1="144.72" y1="252.94" x2="147.52" y2="252.94" stroke="#45b845" stroke-width="0.9" />
<rect x="145.07" y="249.18" width="2.1" height="2.1" fill="#45b845"/>
<line x1="153.20" y1="247.52" x2="153.20" y2="252.94" stroke="#45b845" stroke-width="0.9" />
<line x1="151.80" y1="247.52" x2="154.60" y2="247.52" stroke="#45b845" stroke-width="0.9" />
<line x1="151.80" y1="252.94" x2="154.60" y2="252.94" stroke="#45b845" stroke-width="0.9" />
<rect x="152.15" y="249.18" width="2.1" height="2.1" fill="#45b845"/>
<line x1="160.28" y1="245.43" x2="160.28" y2="250.86" stroke="#45b845" stroke-width="0.9" />
<line x1="158.88" y1="245.43" x2="161.68" y2="245.43" stroke="#45b845" stroke-width="0.9" />
<line x1="158.88" y1="250.86" x2="161.68" y2="250.86" stroke="#45b845" stroke-width="0.9" />
<rect x="159.23" y="247.09" width="2.1" height="2.1" fill="#45b845"/>
<line x1="167.36" y1="247.10" x2="167.36" y2="254.61" stroke="#45b845" stroke-width="0.9" />
<line x1="165.96" y1="247.10" x2="168.76" y2="247.10" stroke="#45b845" stroke-width="0.9" />
<line x1="165.96" y1="254.61" x2="168.76" y2="254.61" stroke="#45b845" stroke-width="0.9" />
<rect x="166.31" y="249.81" width="2.1" height="2.1" fill="#45b845"/>
<polyline points="47.00,265.45 54.08,257.32 61.16,261.07 68.24,277.33 75.32,285.26 82.40,296.52 89.48,307.57 96.56,314.45" fill="none" stroke="#ff4040" stroke-width="1.0" stroke-linejoin="miter" />
<rect x="45.95" y="264.40" width="2.1" height="2.1" fill="#ff4040"/>
<line x1="54.08" y1="254.82" x2="54.08" y2="259.82" stroke="#ff4040" stroke-width="0.9" />
<line x1="52.68" y1="254.82" x2="55.48" y2="254.82" stroke="#ff4040" stroke-width="0.9" />
<line x1="52.68" y1="259.82" x2="55.48" y2="259.82" stroke="#ff4040" stroke-width="0.9" />
<rect x="53.03" y="256.27" width="2.1" height="2.1" fill="#ff4040"/>
<line x1="61.16" y1="259.82" x2="61.16" y2="262.32" stroke="#ff4040" stroke-width="0.9" />
<line x1="59.76" y1="259.82" x2="62.56" y2="259.82" stroke="#ff4040" stroke-width="0.9" />
<line x1="59.76" y1="262.32" x2="62.56" y2="262.32" stroke="#ff4040" stroke-width="0.9" />
<rect x="60.11" y="260.02" width="2.1" height="2.1" fill="#ff4040"/>
<line x1="68.24" y1="275.88" x2="68.24" y2="278.79" stroke="#ff4040" stroke-width="0.9" />
<line x1="66.84" y1="275.88" x2="69.64" y2="275.88" stroke="#ff4040" stroke-width="0.9" />
<line x1="66.84" y1="278.79" x2="69.64" y2="278.79" stroke="#ff4040" stroke-width="0.9" />
<rect x="67.19" y="276.28" width="2.1" height="2.1" fill="#ff4040"/>
<line x1="75.32" y1="283.38" x2="75.32" y2="287.13" stroke="#ff4040" stroke-width="0.9" />
<line x1="73.92" y1="283.38" x2="76.72" y2="283.38" stroke="#ff4040" stroke-width="0.9" />
<line x1="73.92" y1="287.13" x2="76.72" y2="287.13" stroke="#ff4040" stroke-width="0.9" />
<rect x="74.27" y="284.21" width="2.1" height="2.1" fill="#ff4040"/>
<line x1="82.40" y1="294.43" x2="82.40" y2="298.60" stroke="#ff4040" stroke-width="0.9" />
<line x1="81.00" y1="294.43" x2="83.80" y2="294.43" stroke="#ff4040" stroke-width="0.9" />
<line x1="81.00" y1="298.60" x2="83.80" y2="298.60" stroke="#ff4040" stroke-width="0.9" />
<rect x="81.35" y="295.47" width="2.1" height="2.1" fill="#ff4040"/>
<line x1="89.48" y1="306.52" x2="89.48" y2="308.61" stroke="#ff4040" stroke-width="0.9" />
<line x1="88.08" y1="306.52" x2="90.88" y2="306.52" stroke="#ff4040" stroke-width="0.9" />
<line x1="88.08" y1="308.61" x2="90.88" y2="308.61" stroke="#ff4040" stroke-width="0.9" />
<rect x="88.43" y="306.52" width="2.1" height="2.1" fill="#ff4040"/>
<line x1="96.56" y1="313.82" x2="96.56" y2="315.07" stroke="#ff4040" stroke-width="0.9" />
<line x1="95.16" y1="313.82" x2="97.96" y2="313.82" stroke="#ff4040" stroke-width="0.9" />
<line x1="95.16" y1="315.07" x2="97.96" y2="315.07" stroke="#ff4040" stroke-width="0.9" />
<rect x="95.51" y="313.40" width="2.1" height="2.1" fill="#ff4040"/>
<line x1="197.70" y1="241.40" x2="208.30" y2="241.40" stroke="#ff4040" stroke-width="0.9" />
<rect x="202.0" y="240.40" width="2.0" height="2.0" fill="#ff4040"/>
<text x="214.70" y="245.50" font-size="7.7" fill="#222">1 x 10<tspan font-size="4.77" dy="-3.2">2</tspan><tspan dy="3.2"> PFU</tspan></text>
<line x1="197.70" y1="253.40" x2="208.30" y2="253.40" stroke="#5656b4" stroke-width="0.9" />
<rect x="202.0" y="252.40" width="2.0" height="2.0" fill="#5656b4"/>
<text x="214.70" y="257.50" font-size="7.7" fill="#222">1 x 10<tspan font-size="4.77" dy="-3.2">1</tspan><tspan dy="3.2"> PFU</tspan></text>
<line x1="197.70" y1="265.00" x2="208.30" y2="265.00" stroke="#1a1a1a" stroke-width="0.9" />
<rect x="202.0" y="264.00" width="2.0" height="2.0" fill="#1a1a1a"/>
<text x="214.70" y="269.10" font-size="7.7" fill="#222">1 x 10<tspan font-size="4.77" dy="-3.2">0</tspan><tspan dy="3.2"> PFU</tspan></text>
<line x1="197.70" y1="276.70" x2="208.30" y2="276.70" stroke="#45b845" stroke-width="0.9" />
<rect x="202.0" y="275.70" width="2.0" height="2.0" fill="#45b845"/>
<text x="214.70" y="280.80" font-size="7.7" fill="#222">1 x 10<tspan font-size="4.77" dy="-3.2">-1</tspan><tspan dy="3.2"> PFU</tspan></text>
<line x1="297.00" y1="233.90" x2="297.00" y2="328.65" stroke="#111" stroke-width="1.3" />
<line x1="296.35" y1="328.00" x2="438.60" y2="328.00" stroke="#111" stroke-width="1.3" />
<line x1="294.00" y1="328.00" x2="297.00" y2="328.00" stroke="#111" stroke-width="1.3" />
<text x="293.40" y="330.10" font-size="7" font-weight="bold" text-anchor="end" fill="#111" >0</text>
<line x1="294.00" y1="309.18" x2="297.00" y2="309.18" stroke="#111" stroke-width="1.3" />
<text x="293.40" y="311.28" font-size="7" font-weight="bold" text-anchor="end" fill="#111" >20</text>
<line x1="294.00" y1="290.36" x2="297.00" y2="290.36" stroke="#111" stroke-width="1.3" />
<text x="293.40" y="292.46" font-size="7" font-weight="bold" text-anchor="end" fill="#111" >40</text>
<line x1="294.00" y1="271.54" x2="297.00" y2="271.54" stroke="#111" stroke-width="1.3" />
<text x="293.40" y="273.64" font-size="7" font-weight="bold" text-anchor="end" fill="#111" >60</text>
<line x1="294.00" y1="252.72" x2="297.00" y2="252.72" stroke="#111" stroke-width="1.3" />
<text x="293.40" y="254.82" font-size="7" font-weight="bold" text-anchor="end" fill="#111" >80</text>
<line x1="294.00" y1="233.90" x2="297.00" y2="233.90" stroke="#111" stroke-width="1.3" />
<text x="293.40" y="236.00" font-size="7" font-weight="bold" text-anchor="end" fill="#111" >100</text>
<line x1="297.00" y1="328.00" x2="297.00" y2="331.30" stroke="#111" stroke-width="1.3" />
<text x="297.00" y="338.30" font-size="7" font-weight="bold" text-anchor="middle" fill="#111" >0</text>
<line x1="332.40" y1="328.00" x2="332.40" y2="331.30" stroke="#111" stroke-width="1.3" />
<text x="332.40" y="338.30" font-size="7" font-weight="bold" text-anchor="middle" fill="#111" >5</text>
<line x1="367.80" y1="328.00" x2="367.80" y2="331.30" stroke="#111" stroke-width="1.3" />
<text x="367.80" y="338.30" font-size="7" font-weight="bold" text-anchor="middle" fill="#111" >10</text>
<line x1="403.20" y1="328.00" x2="403.20" y2="331.30" stroke="#111" stroke-width="1.3" />
<text x="403.20" y="338.30" font-size="7" font-weight="bold" text-anchor="middle" fill="#111" >15</text>
<line x1="438.60" y1="328.00" x2="438.60" y2="331.30" stroke="#111" stroke-width="1.3" />
<text x="438.60" y="338.30" font-size="7" font-weight="bold" text-anchor="middle" fill="#111" >20</text>
<text x="282.30" y="200.60" font-size="16" font-weight="bold" text-anchor="start" fill="#000" >D</text>
<text x="367.60" y="223.20" font-size="9" font-weight="normal" text-anchor="middle" fill="#111" >H7N9-2017PBC mP2</text>
<text x="367.60" y="348.60" font-size="7.7" font-weight="bold" text-anchor="middle" fill="#111" >Day post-infection</text>
<text x="0.00" y="0.00" font-size="7.4" font-weight="bold" text-anchor="middle" fill="#111" transform="translate(277.3 282.3) rotate(-90)">% survival</text>
<polyline points="381.96,233.90 381.96,249.61 417.36,249.61 417.36,246.61" fill="none" stroke="#1a1a1a" stroke-width="1.4" stroke-linejoin="miter" />
<polyline points="417.36,233.90 417.36,230.90" fill="none" stroke="#1a1a1a" stroke-width="1.3" stroke-linejoin="miter" />
<polyline points="353.64,233.90 353.64,249.61 360.72,249.61 360.72,265.24 367.80,265.24 367.80,280.95 417.36,280.95" fill="none" stroke="#a4a4d4" stroke-width="1.5" stroke-linejoin="miter" />
<polyline points="353.64,233.90 353.64,249.61 360.72,249.61 360.72,265.24 367.80,265.24 367.80,280.95 417.36,280.95" fill="none" stroke="#3a3a9a" stroke-width="1.5" stroke-linejoin="miter" stroke-dasharray="3 1.4"/>
<line x1="417.36" y1="281.45" x2="417.36" y2="277.95" stroke="#1a1a1a" stroke-width="1.3" />
<polyline points="346.56,233.90 346.56,265.24 353.64,265.24 353.64,328.00" fill="none" stroke="#ff2020" stroke-width="1.2" stroke-linejoin="miter" />
<line x1="346.56" y1="263.74" x2="346.56" y2="265.84" stroke="#1a1a1a" stroke-width="1.2" />
<polyline points="297.00,233.90 417.36,233.90" fill="none" stroke="#33bb33" stroke-width="1.4" stroke-linejoin="miter" />
<line x1="417.36" y1="234.40" x2="417.36" y2="230.90" stroke="#1a1a1a" stroke-width="1.3" />
<line x1="448.00" y1="241.50" x2="458.60" y2="241.50" stroke="#ff2020" stroke-width="1.3" />
<line x1="453.30" y1="241.50" x2="453.30" y2="238.70" stroke="#1a1a1a" stroke-width="1.1" />
<text x="464.30" y="245.60" font-size="7.7" fill="#222">1 x 10<tspan font-size="4.77" dy="-3.2">2</tspan><tspan dy="3.2"> PFU</tspan></text>
<line x1="448.00" y1="253.30" x2="458.60" y2="253.30" stroke="#3a3a9a" stroke-width="1.3" stroke-dasharray="3 1.4"/>
<line x1="453.30" y1="253.30" x2="453.30" y2="250.50" stroke="#1a1a1a" stroke-width="1.1" />
<text x="464.30" y="257.40" font-size="7.7" fill="#222">1 x 10<tspan font-size="4.77" dy="-3.2">1</tspan><tspan dy="3.2"> PFU</tspan></text>
<line x1="448.00" y1="264.90" x2="458.60" y2="264.90" stroke="#1a1a1a" stroke-width="1.3" />
<line x1="453.30" y1="264.90" x2="453.30" y2="262.10" stroke="#1a1a1a" stroke-width="1.1" />
<text x="464.30" y="269.00" font-size="7.7" fill="#222">1 x 10<tspan font-size="4.77" dy="-3.2">0</tspan><tspan dy="3.2"> PFU</tspan></text>
<line x1="448.00" y1="276.80" x2="458.60" y2="276.80" stroke="#33bb33" stroke-width="1.3" />
<line x1="453.30" y1="276.80" x2="453.30" y2="274.00" stroke="#1a1a1a" stroke-width="1.1" />
<text x="464.30" y="280.90" font-size="7.7" fill="#222">1 x 10<tspan font-size="4.77" dy="-3.2">-1</tspan><tspan dy="3.2"> PFU</tspan></text>
<text x="18.00" y="388.80" font-size="16" font-weight="bold" text-anchor="start" fill="#000" >E</text>
<text x="110.90" y="411.30" font-size="9" font-weight="normal" text-anchor="middle" fill="#111" >H7N9-2017PBC</text>
<text x="111.30" y="538.00" font-size="7.6" font-weight="bold" text-anchor="middle" fill="#111" >Time (Hours)</text>
<text transform="translate(27.4 470) rotate(-90)" font-size="7.8" font-weight="bold" text-anchor="middle" fill="#1c1c1c">Viral Titer (log<tspan font-size="5" dy="1.5">10</tspan><tspan dy="-1.5"> TCID</tspan><tspan font-size="5" dy="1.5">50</tspan><tspan dy="-1.5">/ml)</tspan></text>
<defs><pattern id="sg" patternUnits="userSpaceOnUse" width="4" height="3.7" y="0.3"><rect width="4" height="3.7" fill="#8d827c"/><rect y="1.0" width="4" height="1.6" fill="#fff"/></pattern><pattern id="gg" patternUnits="userSpaceOnUse" width="4" height="3.7" y="0.3"><rect width="4" height="3.7" fill="#1db43e"/><rect y="1.0" width="4" height="1.6" fill="#fff"/></pattern></defs>
<rect x="52.00" y="480.21" width="11.80" height="36.39" fill="#8d827c" stroke="#1a1a1a" stroke-width="0.9"/>
<rect x="63.80" y="462.24" width="11.80" height="54.36" fill="url(#sg)" stroke="#1a1a1a" stroke-width="0.9"/>
<rect x="75.60" y="481.15" width="11.80" height="35.45" fill="#1db43e" stroke="#1a1a1a" stroke-width="0.9"/>
<rect x="87.40" y="467.29" width="11.80" height="49.31" fill="url(#gg)" stroke="#1a1a1a" stroke-width="0.9"/>
<rect x="123.00" y="437.94" width="11.80" height="78.66" fill="#8d827c" stroke="#1a1a1a" stroke-width="0.9"/>
<rect x="134.80" y="436.18" width="11.80" height="80.42" fill="url(#sg)" stroke="#1a1a1a" stroke-width="0.9"/>
<rect x="146.60" y="441.46" width="11.80" height="75.14" fill="#1db43e" stroke="#1a1a1a" stroke-width="0.9"/>
<rect x="158.40" y="436.18" width="11.80" height="80.42" fill="url(#gg)" stroke="#1a1a1a" stroke-width="0.9"/>
<line x1="57.90" y1="478.21" x2="57.90" y2="482.20" stroke="#1a1a1a" stroke-width="0.9" />
<line x1="55.40" y1="478.21" x2="60.40" y2="478.21" stroke="#1a1a1a" stroke-width="0.9" />
<line x1="55.40" y1="482.20" x2="60.40" y2="482.20" stroke="#1a1a1a" stroke-width="0.9" />
<line x1="69.70" y1="461.66" x2="69.70" y2="462.83" stroke="#1a1a1a" stroke-width="0.9" />
<line x1="67.20" y1="461.66" x2="72.20" y2="461.66" stroke="#1a1a1a" stroke-width="0.9" />
<line x1="67.20" y1="462.83" x2="72.20" y2="462.83" stroke="#1a1a1a" stroke-width="0.9" />
<line x1="81.50" y1="477.62" x2="81.50" y2="484.67" stroke="#1a1a1a" stroke-width="0.9" />
<line x1="79.00" y1="477.62" x2="84.00" y2="477.62" stroke="#1a1a1a" stroke-width="0.9" />
<line x1="79.00" y1="484.67" x2="84.00" y2="484.67" stroke="#1a1a1a" stroke-width="0.9" />
<line x1="93.30" y1="464.94" x2="93.30" y2="469.64" stroke="#1a1a1a" stroke-width="0.9" />
<line x1="90.80" y1="464.94" x2="95.80" y2="464.94" stroke="#1a1a1a" stroke-width="0.9" />
<line x1="90.80" y1="469.64" x2="95.80" y2="469.64" stroke="#1a1a1a" stroke-width="0.9" />
<line x1="128.90" y1="437.47" x2="128.90" y2="438.41" stroke="#1a1a1a" stroke-width="0.9" />
<line x1="126.40" y1="437.47" x2="131.40" y2="437.47" stroke="#1a1a1a" stroke-width="0.9" />
<line x1="126.40" y1="438.41" x2="131.40" y2="438.41" stroke="#1a1a1a" stroke-width="0.9" />
<line x1="140.70" y1="433.60" x2="140.70" y2="438.76" stroke="#1a1a1a" stroke-width="0.9" />
<line x1="138.20" y1="433.60" x2="143.20" y2="433.60" stroke="#1a1a1a" stroke-width="0.9" />
<line x1="138.20" y1="438.76" x2="143.20" y2="438.76" stroke="#1a1a1a" stroke-width="0.9" />
<line x1="152.50" y1="438.88" x2="152.50" y2="444.05" stroke="#1a1a1a" stroke-width="0.9" />
<line x1="150.00" y1="438.88" x2="155.00" y2="438.88" stroke="#1a1a1a" stroke-width="0.9" />
<line x1="150.00" y1="444.05" x2="155.00" y2="444.05" stroke="#1a1a1a" stroke-width="0.9" />
<line x1="164.30" y1="433.60" x2="164.30" y2="438.76" stroke="#1a1a1a" stroke-width="0.9" />
<line x1="161.80" y1="433.60" x2="166.80" y2="433.60" stroke="#1a1a1a" stroke-width="0.9" />
<line x1="161.80" y1="438.76" x2="166.80" y2="438.76" stroke="#1a1a1a" stroke-width="0.9" />
<line x1="40.50" y1="487.25" x2="183.00" y2="487.25" stroke="#1a1a1a" stroke-width="1.3" stroke-dasharray="3.5 1.5"/>
<line x1="40.50" y1="422.68" x2="40.50" y2="517.25" stroke="#111" stroke-width="1.3" />
<line x1="39.85" y1="516.60" x2="183.00" y2="516.60" stroke="#111" stroke-width="1.7" />
<line x1="37.00" y1="516.60" x2="40.50" y2="516.60" stroke="#111" stroke-width="1.3" />
<text x="37.00" y="519.20" font-size="7.5" font-weight="normal" text-anchor="end" fill="#3a3a3a" >0</text>
<line x1="37.00" y1="493.12" x2="40.50" y2="493.12" stroke="#111" stroke-width="1.3" />
<text x="37.00" y="495.72" font-size="7.5" font-weight="normal" text-anchor="end" fill="#3a3a3a" >2</text>
<line x1="37.00" y1="469.64" x2="40.50" y2="469.64" stroke="#111" stroke-width="1.3" />
<text x="37.00" y="472.24" font-size="7.5" font-weight="normal" text-anchor="end" fill="#3a3a3a" >4</text>
<line x1="37.00" y1="446.16" x2="40.50" y2="446.16" stroke="#111" stroke-width="1.3" />
<text x="37.00" y="448.76" font-size="7.5" font-weight="normal" text-anchor="end" fill="#3a3a3a" >6</text>
<line x1="37.00" y1="422.68" x2="40.50" y2="422.68" stroke="#111" stroke-width="1.3" />
<text x="37.00" y="425.28" font-size="7.5" font-weight="normal" text-anchor="end" fill="#3a3a3a" >8</text>
<line x1="75.60" y1="516.60" x2="75.60" y2="519.40" stroke="#111" stroke-width="1.3" />
<line x1="146.60" y1="516.60" x2="146.60" y2="519.40" stroke="#111" stroke-width="1.3" />
<text x="75.60" y="526.90" font-size="7" font-weight="bold" text-anchor="middle" fill="#111" >24</text>
<text x="146.60" y="526.90" font-size="7" font-weight="bold" text-anchor="middle" fill="#111" >48</text>
<line x1="54.80" y1="454.70" x2="72.00" y2="454.70" stroke="#1a1a1a" stroke-width="1.3" />
<line x1="79.70" y1="454.70" x2="97.00" y2="454.70" stroke="#1a1a1a" stroke-width="1.3" />
<line x1="127.00" y1="429.20" x2="143.80" y2="429.20" stroke="#1a1a1a" stroke-width="1.3" />
<line x1="149.30" y1="429.20" x2="167.20" y2="429.20" stroke="#1a1a1a" stroke-width="1.3" />
<text x="63.40" y="454.00" font-size="10" font-weight="bold" text-anchor="middle" fill="#111" >***</text>
<text x="88.40" y="454.00" font-size="10" font-weight="bold" text-anchor="middle" fill="#111" >*</text>
<text x="135.40" y="426.60" font-size="8.5" font-weight="normal" text-anchor="middle" fill="#222" >ns</text>
<text x="158.30" y="426.60" font-size="8.5" font-weight="normal" text-anchor="middle" fill="#222" >ns</text>
<rect x="190.8" y="437.80" width="10.9" height="4.6" fill="#8d827c" stroke="#333" stroke-width="0.8"/>
<text x="207.60" y="442.50" font-size="7.8" font-weight="normal" text-anchor="start" fill="#161616" >non-passaged - Trypsin</text>
<rect x="190.8" y="448.30" width="10.9" height="4.6" fill="#8d827c" stroke="#333" stroke-width="0.8"/>
<rect x="192.0" y="449.70" width="8.5" height="1.8" fill="#fff"/>
<text x="207.60" y="453.00" font-size="7.8" font-weight="normal" text-anchor="start" fill="#161616" >non-passaged + Trypsin</text>
<rect x="190.8" y="459.40" width="10.9" height="4.6" fill="#1db43e" stroke="#333" stroke-width="0.8"/>
<text x="207.60" y="464.10" font-size="7.8" font-weight="normal" text-anchor="start" fill="#161616" >mP2 - Trypsin</text>
<rect x="190.8" y="470.30" width="10.9" height="4.6" fill="#1db43e" stroke="#333" stroke-width="0.8"/>
<rect x="192.0" y="471.70" width="8.5" height="1.8" fill="#fff"/>
<text x="207.60" y="475.00" font-size="7.8" font-weight="normal" text-anchor="start" fill="#161616" >mP2 + Trypsin</text>
</svg></body></html>
